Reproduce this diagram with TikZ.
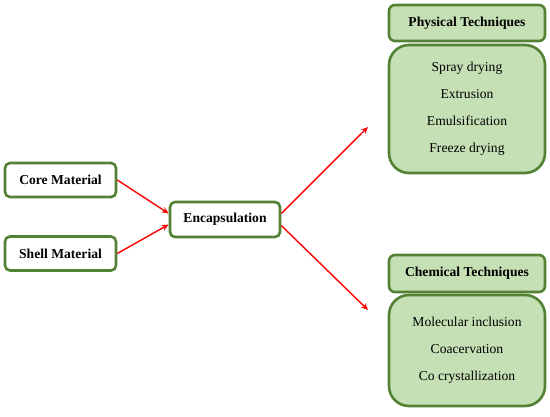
\documentclass[tikz,border=0pt]{standalone}
\usepackage{fontspec}
\setmainfont{Liberation Serif}
\usepackage{xcolor}
\usetikzlibrary{arrows.meta,positioning}
\definecolor{leafgreen}{RGB}{84, 130, 53}
\definecolor{palegreen}{RGB}{197, 224, 180}
\definecolor{arrowred}{RGB}{255, 0, 0}

\begin{document}
\begin{tikzpicture}[x=1pt, y=-1pt,
    inbox/.style={draw=leafgreen, line width=2.6pt, rounded corners=5pt, fill=white,
        font=\bfseries\fontsize{13.6}{16}\selectfont, inner sep=0pt},
    headbox/.style={draw=leafgreen, line width=2.6pt, rounded corners=6pt, fill=palegreen,
        font=\bfseries\fontsize{13.6}{16}\selectfont, minimum width=156pt, inner sep=0pt},
    listbox/.style={draw=leafgreen, line width=2.6pt, rounded corners=20pt, fill=palegreen,
        font=\fontsize{13.6}{16}\selectfont, minimum width=156pt, align=center, inner sep=0pt},
    flow/.style={-{Stealth[length=7pt, width=6pt]}, draw=arrowred, line width=1.4pt}]
    \useasboundingbox (0, 0) rectangle (550, 416);

    % Inputs
    \node[inbox, minimum width=111pt, minimum height=34pt] (core) at (60.5, 180) {Core Material};
    \node[inbox, minimum width=111pt, minimum height=34pt] (shell) at (60.5, 253.5) {Shell Material};
    \node[inbox, minimum width=110pt, minimum height=35pt] (encap) at (225, 219.5) {Encapsulation};

    % Physical techniques
    \node[headbox, minimum height=36pt] (physhead) at (467, 23) {Physical Techniques};
    \node[listbox, minimum height=128pt] (physlist) at (467, 109)
        {Spray drying\\[11pt] Extrusion\\[11pt] Emulsification\\[11pt] Freeze drying};

    % Chemical techniques
    \node[headbox, minimum height=37pt] (chemhead) at (467, 273.5) {Chemical Techniques};
    \node[listbox, minimum height=111pt] (chemlist) at (467, 350.5)
        {Molecular inclusion\\[11pt] Coacervation\\[11pt] Co crystallization};

    % Arrow ends
    \coordinate (phystip) at (368, 127);
    \coordinate (chemtip) at (368, 310);

    % Connectors
    \draw[flow] (core.east) -- ([yshift=6pt]encap.west);
    \draw[flow] (shell.east) -- ([yshift=-5pt]encap.west);
    \draw[flow] ([yshift=6pt]encap.east) -- (phystip);
    \draw[flow] ([yshift=-6pt]encap.east) -- (chemtip);
\end{tikzpicture}
\end{document}
